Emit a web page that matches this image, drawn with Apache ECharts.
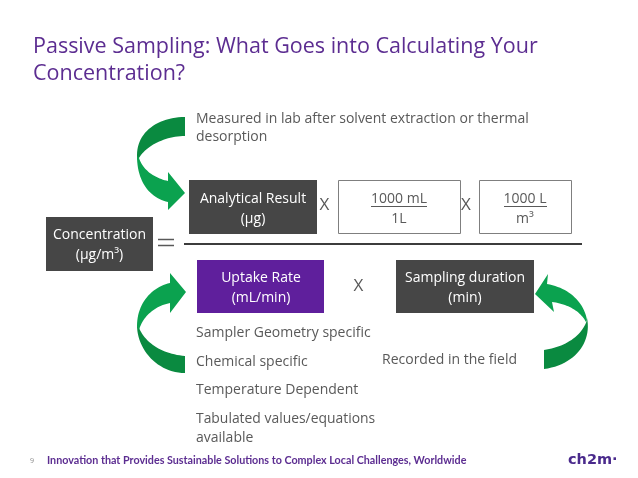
<!DOCTYPE html>
<html>
<head>
<meta charset="utf-8">
<script src="https://cdn.jsdelivr.net/npm/echarts@6/dist/echarts.min.js"></script>
<style>
  html, body { margin: 0; padding: 0; background: #fff; }
  #main { width: 638px; height: 478px; }
</style>
</head>
<body>
<div id="main"></div>
<script>
// slide text
var titleLines = ["Passive Sampling: What Goes into Calculating Your", "Concentration?"];
var labMeasure = ["Measured in lab after solvent extraction or thermal", "desorption"];
var concentration = ["Concentration", "(μg/m³)"];
var analytical = ["Analytical Result", "(μg)"];
var mlFactor = ["1000 mL", "1L"];
var lFactor = ["1000 L", "m³"];
var uptake = ["Uptake Rate", "(mL/min)"];
var sampling = ["Sampling duration", "(min)"];
var uptakeNotes = ["Sampler Geometry specific", "Chemical specific", "Temperature Dependent", "Tabulated values/equations", "available"];
var fieldNote = "Recorded in the field";
var footer = "Innovation that Provides Sustainable Solutions to Complex Local Challenges, Worldwide";
var pageNumber = "9";
var logo = "ch2m·";

var FONT = '"Open Sans", "Noto Sans", sans-serif';
var PURPLE = "#5c2d91";
var GREY = "#595959";
var DARK = "#464646";
var GREEN = "#0ba24f";
var GREEN_DARK = "#0a8a40";

var elements = [];

function text(str, x, y, size, color, align, weight, family) {
  elements.push({
    type: "text",
    x: x,
    y: y,
    z: 5,
    style: {
      text: str,
      fill: color,
      font: (weight || "normal") + " " + size + "px " + (family || FONT),
      textAlign: align || "left",
      textVerticalAlign: "middle"
    }
  });
}

function box(x, y, w, h, fill, stroke) {
  elements.push({
    type: "rect",
    shape: { x: x, y: y, width: w, height: h },
    style: { fill: fill, stroke: stroke || null, lineWidth: stroke ? 1 : 0 }
  });
}

function line(x1, y1, x2, y2, color, width) {
  elements.push({
    type: "line",
    z: 4,
    shape: { x1: x1, y1: y1, x2: x2, y2: y2 },
    style: { stroke: color, lineWidth: width }
  });
}

// sample a cubic bezier so the arrow bands can be drawn as polygons
function curve(a, b, c, d) {
  var pts = [];
  for (var i = 0; i <= 24; i++) {
    var t = i / 24, u = 1 - t;
    pts.push([
      u * u * u * a[0] + 3 * u * u * t * b[0] + 3 * u * t * t * c[0] + t * t * t * d[0],
      u * u * u * a[1] + 3 * u * u * t * b[1] + 3 * u * t * t * c[1] + t * t * t * d[1]
    ]);
  }
  return pts;
}

function band(points, color) {
  elements.push({
    type: "polygon",
    z: 2,
    shape: { points: points },
    style: { fill: color }
  });
}

// top curved arrow
band(curve([185, 117], [158, 117], [137, 132], [137, 155])
  .concat([[137, 160]])
  .concat(curve([139, 158], [146, 146], [165, 136], [185, 136])), GREEN_DARK);
band(curve([137, 156], [137, 182], [150, 198], [168, 202])
  .concat([[168, 210], [185, 193], [168, 172], [168, 181]])
  .concat(curve([168, 181], [154, 178], [143, 170], [139, 158])), GREEN);

// bottom left arrow
band(curve([137, 325], [137, 350], [158, 373], [185, 373])
  .concat([[185, 356]])
  .concat(curve([185, 356], [163, 354], [146, 344], [139, 328])), GREEN_DARK);
band(curve([170, 283], [152, 287], [137, 303], [137, 326])
  .concat(curve([139, 330], [143, 316], [155, 306], [170, 303]))
  .concat([[170, 313], [186, 292], [170, 273]]), GREEN);

// right arrow
band(curve([587, 318], [592, 342], [575, 365], [544, 369])
  .concat([[544, 350]])
  .concat(curve([544, 350], [565, 347], [582, 336], [587, 320])), GREEN_DARK);
band(curve([547, 284], [570, 288], [584, 303], [587, 320])
  .concat(curve([586, 322], [580, 311], [568, 304], [552, 302]))
  .concat([[554, 312], [535, 294], [548, 274]]), GREEN);

// title
text(titleLines[0], 33, 46.5, 21.5, PURPLE);
text(titleLines[1], 33, 74, 21.5, PURPLE);

// notes
text(labMeasure[0], 196, 119, 14, GREY);
text(labMeasure[1], 196, 137, 14, GREY);

// boxes
box(46, 217, 107, 54, DARK);
text(concentration[0], 99.5, 235, 14, "#fff", "center");
text(concentration[1], 99.5, 255, 14, "#fff", "center");

box(189, 180, 128, 54, DARK);
text(analytical[0], 253, 199, 14, "#fff", "center");
text(analytical[1], 253, 219, 14, "#fff", "center");

box(338.5, 180.5, 122, 53, "#fff", "#7f7f7f");
text(mlFactor[0], 399, 199, 14, GREY, "center");
line(371, 206.5, 427, 206.5, GREY, 1);
text(mlFactor[1], 399, 219, 14, GREY, "center");

box(479.5, 180.5, 92, 53, "#fff", "#7f7f7f");
text(lFactor[0], 525, 199, 14, GREY, "center");
line(504, 206.5, 547, 206.5, GREY, 1);
text(lFactor[1], 525, 219, 14, GREY, "center");

box(197, 260, 127, 53, "#5f1f9c");
text(uptake[0], 261, 278, 14, "#fff", "center");
text(uptake[1], 261, 298, 14, "#fff", "center");

box(396, 260, 138, 53, DARK);
text(sampling[0], 465, 278, 14, "#fff", "center");
text(sampling[1], 465, 298, 14, "#fff", "center");

// fraction bar, equals sign and multiply signs
line(184, 244, 582, 244, "#3c3c3c", 2);
line(158, 239.5, 174, 239.5, GREY, 1.5);
line(158, 245.5, 174, 245.5, GREY, 1.5);
text("X", 324.5, 205, 17, GREY, "center");
text("X", 466, 205, 17, GREY, "center");
text("X", 358.5, 286, 17, GREY, "center");

// uptake notes
text(uptakeNotes[0], 196, 333, 14, GREY);
text(uptakeNotes[1], 196, 362, 14, GREY);
text(uptakeNotes[2], 196, 390, 14, GREY);
text(uptakeNotes[3], 196, 419, 13.9, GREY);
text(uptakeNotes[4], 196, 438, 14, GREY);
text(fieldNote, 382, 360, 14, GREY);

// footer
text(pageNumber, 32, 461, 7, "#888", "center");
text(footer, 47, 460.5, 10.75, PURPLE, "left", "bold", "Lato, sans-serif");
text(logo, 568, 460, 14.5, "#4a2a8c", "left", "bold", '"DejaVu Sans", sans-serif');

var myChart = echarts.init(document.getElementById("main"));
myChart.setOption({
  animation: false,
  backgroundColor: "#fff",
  graphic: { elements: elements }
});
</script>
</body>
</html>
